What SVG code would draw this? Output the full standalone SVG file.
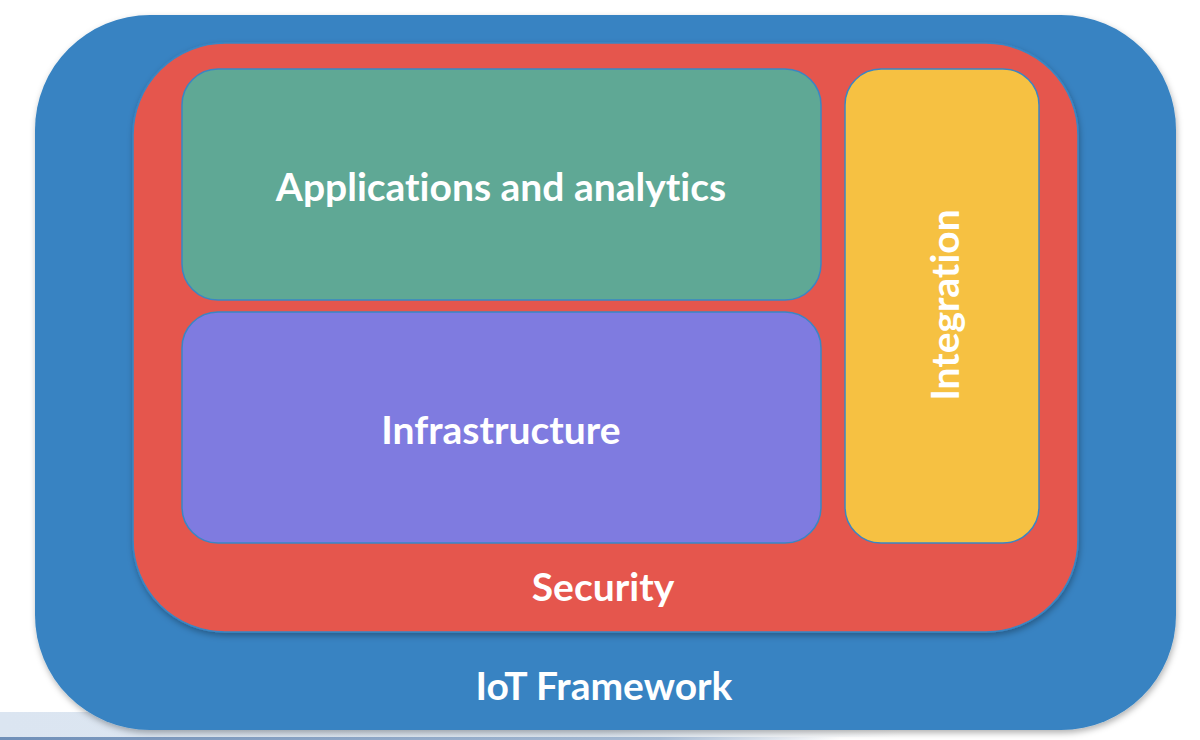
<svg xmlns="http://www.w3.org/2000/svg" width="1200" height="740" viewBox="0 0 1200 740">
  <defs>
    <filter id="shadow" x="-5%" y="-5%" width="110%" height="115%">
      <feDropShadow dx="1" dy="3" stdDeviation="3" flood-color="#000" flood-opacity="0.3"/>
    </filter>
    <linearGradient id="strip" x1="0" y1="0" x2="1" y2="0">
      <stop offset="0" stop-color="#dbe5f1"/>
      <stop offset="0.5" stop-color="#dfe8f2"/>
      <stop offset="0.75" stop-color="#ffffff"/>
    </linearGradient>
    <linearGradient id="stripline" x1="0" y1="0" x2="1" y2="0">
      <stop offset="0" stop-color="#6f8fb8"/>
      <stop offset="0.55" stop-color="#a9bdd6"/>
      <stop offset="0.7" stop-color="#ffffff"/>
    </linearGradient>
  </defs>
  <style>
    .lbl { font-family: Lato, "Open Sans", "Liberation Sans", sans-serif; font-weight: bold; fill: #ffffff; text-anchor: middle; font-size: 39px; font-variant-ligatures: none; }
    .inner { stroke: #3a86c4; stroke-width: 1.5; }
  </style>
  <rect x="0" y="0" width="1200" height="740" fill="#ffffff"/>
  <rect x="0" y="712" width="1200" height="26" fill="url(#strip)"/>
  <rect x="0" y="737" width="1200" height="3" fill="url(#stripline)"/>

  <g id="iot-framework">
    <rect x="35" y="15" width="1141" height="715" rx="115" ry="115" fill="#3783c2" filter="url(#shadow)"/>
    <text class="lbl" x="604" y="700">IoT Framework</text>
  </g>

  <g id="security">
    <rect x="133" y="43" width="945" height="589" rx="92" ry="92" fill="#e5574d" stroke="#3a86c4" stroke-width="1.5" filter="url(#shadow)"/>
    <text class="lbl" x="603" y="601">Security</text>
  </g>

  <g id="applications">
    <rect class="inner" x="182" y="69" width="639" height="231" rx="36" ry="36" fill="#5fa895"/>
    <text class="lbl" x="501" y="201">Applications and analytics</text>
  </g>

  <g id="infrastructure">
    <rect class="inner" x="182" y="312" width="639" height="231" rx="36" ry="36" fill="#7f7be0"/>
    <text class="lbl" x="501" y="444">Infrastructure</text>
  </g>

  <g id="integration">
    <rect class="inner" x="845" y="69" width="194" height="474" rx="36" ry="36" fill="#f6c142"/>
    <text class="lbl" x="0" y="0" transform="translate(959 305) rotate(-90)">Integration</text>
  </g>

  <g id="connectors"></g>
</svg>
